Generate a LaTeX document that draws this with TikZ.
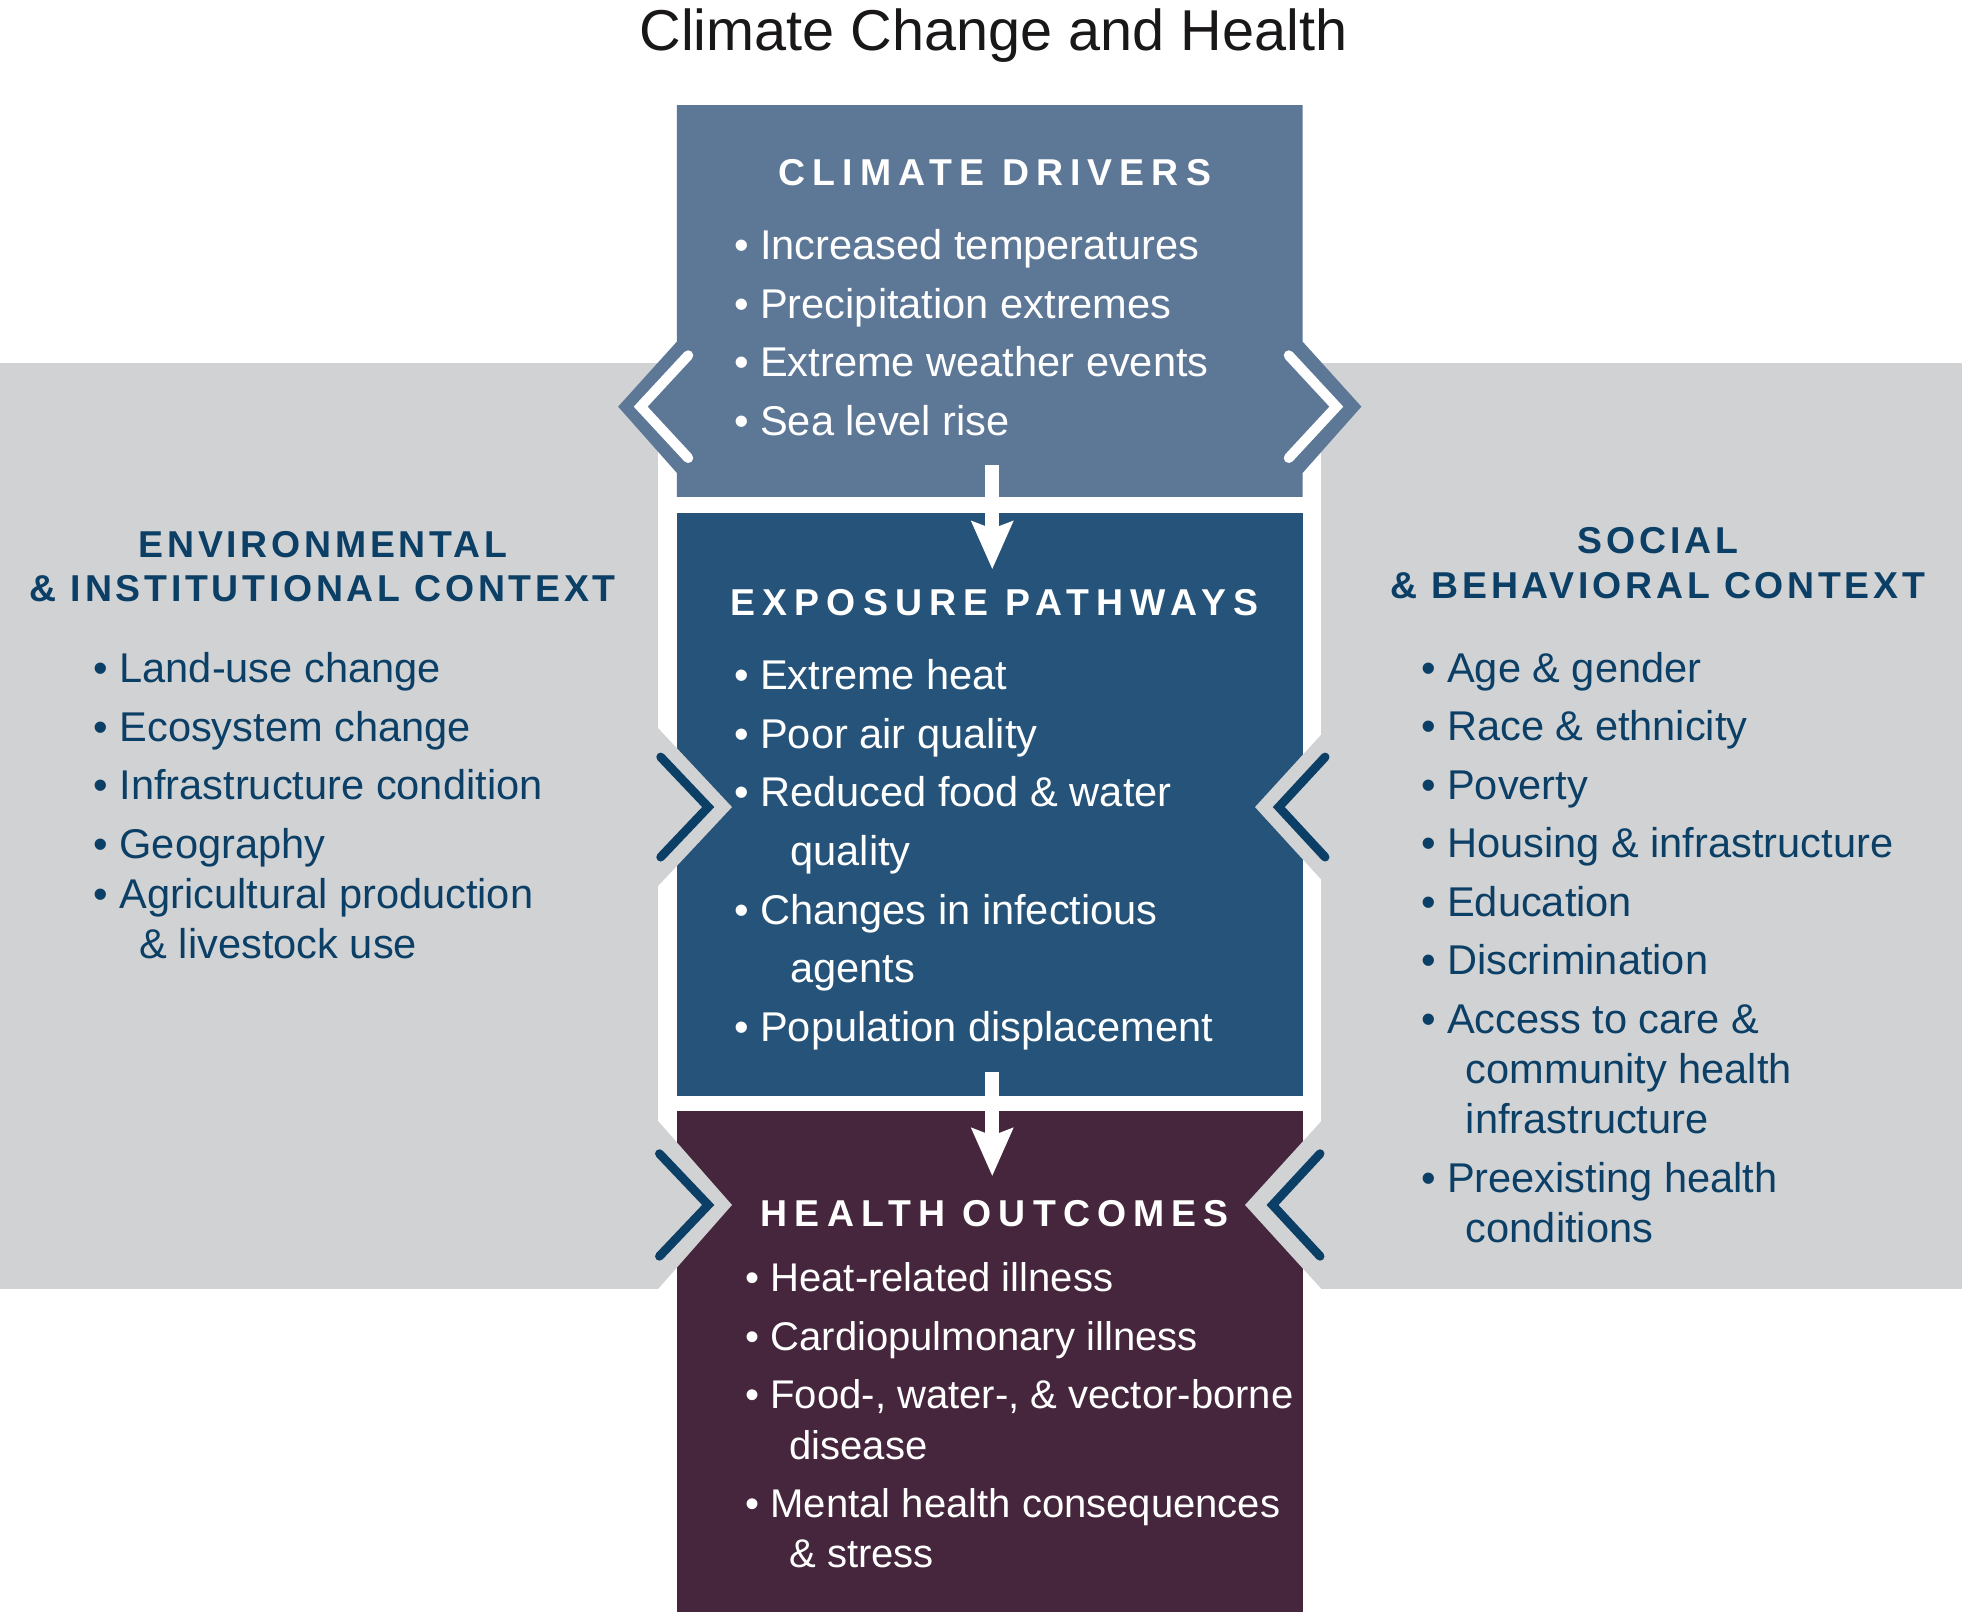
\documentclass[tikz,border=0pt]{standalone}
\usepackage{fontspec}
\setmainfont{Liberation Sans}
\newfontfamily\ctrcaps{Liberation Sans}[LetterSpace=19]
\newfontfamily\sidecaps{Liberation Sans}[LetterSpace=10]
\usetikzlibrary{arrows.meta, positioning}

\definecolor{driverblue}{HTML}{5D7797}
\definecolor{exposureblue}{HTML}{265379}
\definecolor{healthplum}{HTML}{45263C}
\definecolor{contextgray}{HTML}{D1D2D4}
\definecolor{contextnavy}{HTML}{0B3F66}
\definecolor{titleblack}{HTML}{1A1718}

\begin{document}
\begin{tikzpicture}[
  x=0.01cm, y=-0.01cm,
  >={Stealth[length=10.8pt, width=9.2pt, inset=1.6pt]},
  notchD/.style={draw=contextnavy, line width=2pt, line cap=round, line join=miter},
  notchW/.style={draw=white, line width=2.3pt, line cap=round, line join=miter},
  flow/.style={->, draw=white, line width=3.1pt},
  blist/.style={anchor=base west, inner sep=0pt, align=left, font={\fontsize{9.45}{11.4}\selectfont}},
  boxhead/.style={anchor=base, inner sep=0pt, text=white, font={\ctrcaps\bfseries\fontsize{8.5}{10}\selectfont}},
  sidehead/.style={anchor=base, inner sep=0pt, align=center, text=contextnavy, font={\sidecaps\bfseries\fontsize{8.5}{10.1}\selectfont}}
]
\fill[white] (0,0) rectangle (1568,1288);
\useasboundingbox (0,0) rectangle (1568,1288);

% Context panels
\fill[contextgray] (0,290) rectangle (526,1030);
\fill[contextgray] (1056,290) rectangle (1568,1030);

% Central column
\fill[driverblue] (541,84) -- (1041,84) -- (1041,273) -- (1088,325) -- (1041,378)
  -- (1041,397) -- (541,397) -- (541,378) -- (494,325) -- (541,273) -- cycle;
\fill[exposureblue] (541,410) rectangle (1041,876);
\fill[healthplum] (541,888) rectangle (1041,1288);

% Gray notches cut into the column
\fill[contextgray] (526,582) -- (585,645) -- (526,708) -- cycle;
\fill[contextgray] (1056,587) -- (1003,645) -- (1056,703) -- cycle;
\fill[contextgray] (526,896) -- (585,963) -- (526,1030) -- cycle;
\fill[contextgray] (1056,896) -- (995,963) -- (1056,1030) -- cycle;

% Chevrons
\draw[notchW] (550,284) -- (512,325) -- (550,366);
\draw[notchW] (1030,284) -- (1068,325) -- (1030,366);
\draw[notchD] (528,605) -- (566,645) -- (528,685);
\draw[notchD] (1059,605) -- (1022,645) -- (1059,685);
\draw[notchD] (527,922) -- (566,963) -- (527,1004);
\draw[notchD] (1055,922) -- (1017,963) -- (1055,1004);

% Title
\node[anchor=base, inner sep=0pt, text=titleblack, font={\fontsize{13.1}{15}\selectfont}] (title) at (794,40) {Climate Change and Health};

% Climate drivers (lists are anchored at their last baseline)
\node[boxhead] (driversHead) at (795,148) {CLIMATE DRIVERS};
\node[blist, text=white] (driversList) at (586,348) {\textbullet\ Increased temperatures\\[1.9pt]
  \textbullet\ Precipitation extremes\\[1.9pt]
  \textbullet\ Extreme weather events\\[1.9pt]
  \textbullet\ Sea level rise};

% Exposure pathways
\node[boxhead] (exposureHead) at (795,492) {EXPOSURE PATHWAYS};
\node[blist, text=white] (exposureList) at (586,832) {\textbullet\ Extreme heat\\[1.9pt]
  \textbullet\ Poor air quality\\[1.9pt]
  \textbullet\ Reduced food \& water\\[1.9pt]
  \hspace*{12.8pt}quality\\[1.9pt]
  \textbullet\ Changes in infectious\\[1.9pt]
  \hspace*{12.8pt}agents\\[1.9pt]
  \textbullet\ Population displacement};

% Health outcomes
\node[boxhead] (outcomesHead) at (795,980) {HEALTH OUTCOMES};
\node[blist, text=white, font={\fontsize{9.1}{11.4}\selectfont}] (outcomesList) at (595,1253) {\textbullet\ Heat-related illness\\[1.9pt]
  \textbullet\ Cardiopulmonary illness\\[1.9pt]
  \textbullet\ Food-, water-, \& vector-borne\\
  \hspace*{10pt}disease\\[1.9pt]
  \textbullet\ Mental health consequences\\
  \hspace*{10pt}\& stress};

% Environmental & institutional context
\node[sidehead] (envHead) at (258,481) {ENVIRONMENTAL\\\& INSTITUTIONAL CONTEXT};
\node[blist, text=contextnavy] (envList) at (74,766) {\textbullet\ Land-use change\\[1.9pt]
  \textbullet\ Ecosystem change\\[1.9pt]
  \textbullet\ Infrastructure condition\\[1.9pt]
  \textbullet\ Geography\\
  \textbullet\ Agricultural production\\
  \hspace*{10.5pt}\& livestock use};

% Social & behavioral context
\node[sidehead] (socHead) at (1325,478) {SOCIAL\\\& BEHAVIORAL CONTEXT};
\node[blist, text=contextnavy] (socList) at (1135,993) {\textbullet\ Age \& gender\\[1.9pt]
  \textbullet\ Race \& ethnicity\\[1.9pt]
  \textbullet\ Poverty\\[1.9pt]
  \textbullet\ Housing \& infrastructure\\[1.9pt]
  \textbullet\ Education\\[1.9pt]
  \textbullet\ Discrimination\\[1.9pt]
  \textbullet\ Access to care \&\\
  \hspace*{10.2pt}community health\\
  \hspace*{10.2pt}infrastructure\\[1.9pt]
  \textbullet\ Preexisting health\\
  \hspace*{10.2pt}conditions};

% Flow arrows
\coordinate (driversOut) at (793,372);
\coordinate (exposureIn) at (793,455);
\coordinate (exposureOut) at (793,857);
\coordinate (outcomesIn) at (793,940);
\draw[flow] (driversOut) -- (exposureIn);
\draw[flow] (exposureOut) -- (outcomesIn);
\end{tikzpicture}
\end{document}
